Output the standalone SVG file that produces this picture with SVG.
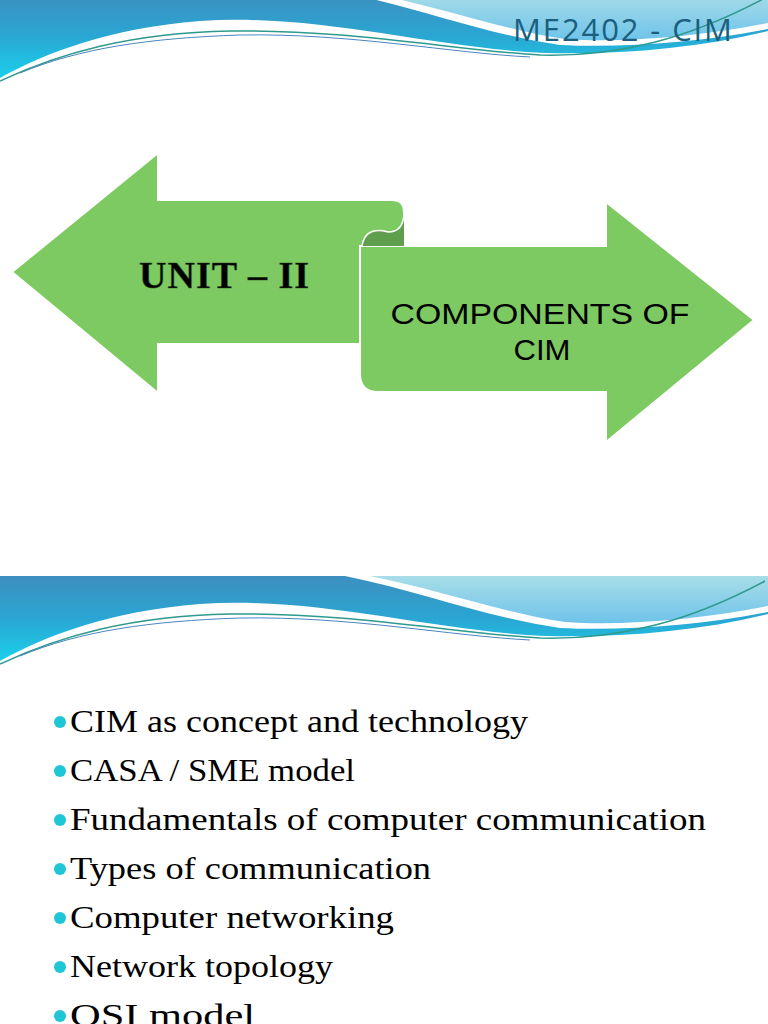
<svg xmlns="http://www.w3.org/2000/svg" width="768" height="1024" viewBox="0 0 768 1024">
<defs>
<linearGradient id="bl" x1="0" y1="0" x2="0" y2="1"><stop offset="0" stop-color="#3d8fbf"/><stop offset="0.5" stop-color="#2aa6d3"/><stop offset="1" stop-color="#1ad0ea"/></linearGradient>
<linearGradient id="lt" x1="0" y1="0" x2="0" y2="1"><stop offset="0" stop-color="#a8dde8"/><stop offset="1" stop-color="#6ec3ea"/></linearGradient>
<g id="hdr">
<rect x="0" y="0" width="768" height="90" fill="#fff"/>
<path d="M0,0 H768 V38 C700,55 620,62 545,60 C430,55 320,20 200,28 C110,35 45,60 0,85 Z" fill="url(#bl)"/>
<path d="M345,0 H768 V36 C700,50 620,55 560,52 C480,40 420,15 345,0 Z" fill="#fff"/>
<path d="M370,0 H768 V30 C700,44 620,50 565,46 C500,36 440,14 370,0 Z" fill="url(#lt)"/>
<path d="M0,88 C60,60 130,40 230,38 C350,36 460,58 540,62 C620,64 690,45 765,5" fill="none" stroke="#2e9a8e" stroke-width="1.5"/>
<path d="M20,80 C80,55 150,45 240,42 C350,40 450,60 530,64" fill="none" stroke="#4a86c0" stroke-width="1"/>
</g>
<style>
.arr{fill:#7dc962;stroke:#fff;stroke-width:2}
.bul{font-family:"Liberation Serif",serif;font-size:32px;fill:#000}
.dot{fill:#1fc6d6}
</style>
</defs>
<use href="#hdr" y="-7"/>
<text x="513" y="41" font-family="Open Sans,Liberation Sans,sans-serif" font-size="31" fill="#1b5f7d" textLength="219">ME2402 - CIM</text>
<g id="left-arrow">
<path class="arr" d="M12,272 L158,153 V200 H392 Q404,200 404,212 V330 H360 V344 H158 V393 Z"/>
</g>
<g id="right-arrow">
<path class="arr" d="M360,246 H606 V202 L754,320 L606,442 V392 H378 Q360,392 360,374 Z"/>
<path d="M404,212 Q404,232 388,232 Q365,226 362,246 H404 Z" fill="#5f9e4d"/>
<path d="M404,212 Q404,232 388,232 Q365,226 362,246" fill="none" stroke="#fff" stroke-width="1.5"/>
</g>
<text x="224" y="288" text-anchor="middle" font-family="Liberation Serif,serif" font-weight="bold" font-size="38" fill="#000" stroke="#2a4a20" stroke-width="0.5" textLength="170">UNIT – II</text>
<text x="540" y="324" text-anchor="middle" font-family="Liberation Sans,sans-serif" font-size="30" fill="#000" textLength="299" lengthAdjust="spacingAndGlyphs">COMPONENTS OF</text>
<text x="542" y="360" text-anchor="middle" font-family="Liberation Sans,sans-serif" font-size="30" fill="#000" textLength="57" lengthAdjust="spacingAndGlyphs">CIM</text>
<use href="#hdr" y="576"/>
<g id="bullets">
<circle class="dot" cx="60" cy="722" r="6"/><text class="bul" x="70" y="732" textLength="458" lengthAdjust="spacingAndGlyphs">CIM as concept and technology</text>
<circle class="dot" cx="60" cy="771" r="6"/><text class="bul" x="70" y="781" textLength="285" lengthAdjust="spacingAndGlyphs">CASA / SME model</text>
<circle class="dot" cx="60" cy="820" r="6"/><text class="bul" x="70" y="830" textLength="636" lengthAdjust="spacingAndGlyphs">Fundamentals of computer communication</text>
<circle class="dot" cx="60" cy="869" r="6"/><text class="bul" x="70" y="879" textLength="361" lengthAdjust="spacingAndGlyphs">Types of communication</text>
<circle class="dot" cx="60" cy="918" r="6"/><text class="bul" x="70" y="928" textLength="324" lengthAdjust="spacingAndGlyphs">Computer networking</text>
<circle class="dot" cx="60" cy="967" r="6"/><text class="bul" x="70" y="977" textLength="263" lengthAdjust="spacingAndGlyphs">Network topology</text>
<circle class="dot" cx="60" cy="1016" r="6"/><text class="bul" x="70" y="1026" textLength="185" lengthAdjust="spacingAndGlyphs">OSI model</text>
</g>
</svg>
